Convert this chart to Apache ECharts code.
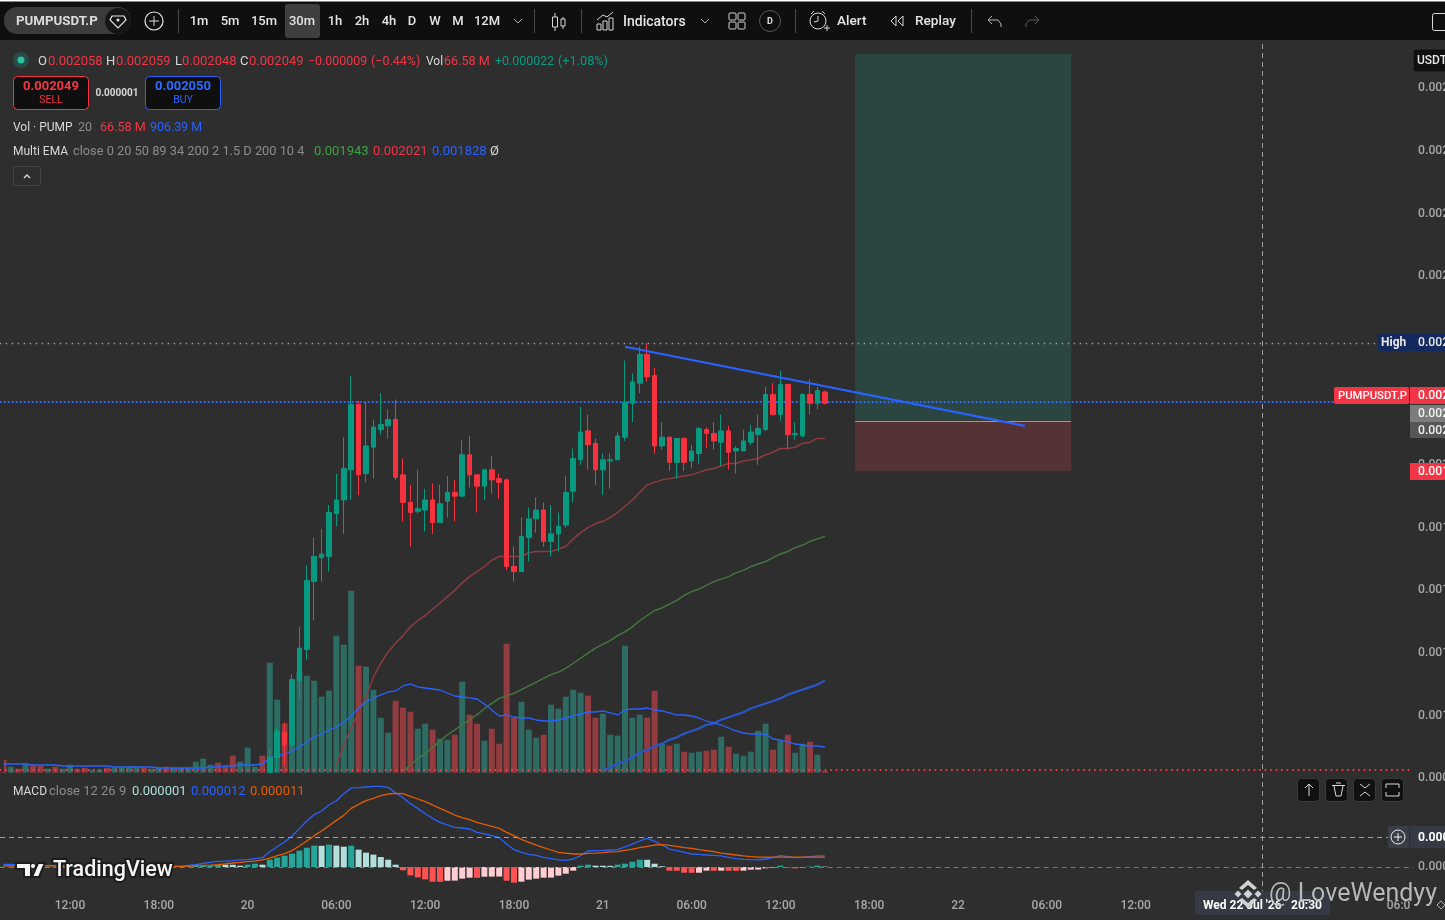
<!DOCTYPE html>
<html><head><meta charset="utf-8">
<style>html,body{margin:0;padding:0;background:#2e2e2e;overflow:hidden}#c{width:1445px;height:920px}</style>
<script src="https://cdn.jsdelivr.net/npm/echarts@6/dist/echarts.min.js"></script>
</head><body><div id="c"></div>
<script>
// Prices are in millionths of USDT. Candles start at bar 36; earlier bars sit below the visible scale.
const candleStart = 36;
const opens = [1755,1767,1787,1777,1828,1853,1907,1926,1927,1961,1972,1996,2048,1993,2014,2028,2031,2036,1992,1970,1963,1964,1972,1954,1971,1978,1975,2008,1992,1983,1996,1989,1988,1919,1915,1942,1957,1964,1939,1945,1952,1979,2004,2027,2017,1996,2003,2004,2022,2049,2065,2088,2071,2015,2022,2002,2021,2003,2009,2028,2025,2018,2027,2011,2011,2018,2024,2028,2056,2040,2064,2024,2023,2056,2049,2058];
const closes = [1767,1788,1777,1829,1854,1908,1927,1929,1962,1972,1997,2048,1992,2015,2030,2032,2036,1990,1970,1962,1965,1972,1954,1969,1978,1975,2008,1992,1983,1996,1988,1986,1919,1915,1943,1957,1964,1939,1945,1951,1978,2005,2026,2016,1996,2004,2004,2023,2050,2066,2088,2070,2015,2022,2002,2021,2002,2011,2029,2025,2019,2027,2010,2013,2019,2026,2029,2056,2040,2064,2024,2025,2056,2049,2059,2049];
const lows = [1755,1755,1761,1773,1814,1845,1876,1907,1915,1951,1945,1972,1976,1986,1989,2024,2021,1988,1955,1935,1961,1947,1945,1954,1958,1955,1975,1982,1962,1972,1977,1973,1916,1907,1915,1923,1946,1935,1927,1931,1950,1970,2000,1996,1984,1976,1981,2004,2019,2034,2057,2066,2009,2012,1995,1989,1995,1997,2001,2013,2012,1999,1996,1993,2011,2016,2000,2027,2039,2035,2013,2020,2022,2040,2044,2048];
const highs = [1774,1791,1795,1833,1871,1920,1942,1949,1968,1993,2022,2071,2051,2050,2036,2057,2044,2052,2005,1984,1996,1981,1985,1984,1991,1988,2020,2023,1992,1997,2007,1993,1989,1935,1958,1966,1974,1970,1968,1962,1991,2013,2046,2040,2021,2009,2009,2026,2083,2073,2094,2097,2077,2034,2022,2021,2022,2016,2030,2030,2034,2040,2031,2015,2028,2032,2040,2062,2065,2075,2064,2034,2057,2068,2062,2059];
// Multi EMA (millionths of USDT)
const emaRedStart = 45;
const emaRed = [1761,1777,1790,1803,1815,1831,1842,1851,1858,1864,1871,1876,1880,1885,1890,1895,1900,1906,1911,1915,1919,1924,1927,1927,1927,1927,1930,1931,1931,1931,1933,1935,1941,1946,1950,1953,1955,1958,1962,1967,1972,1978,1984,1986,1988,1989,1990,1991,1992,1994,1996,1997,1999,2001,2001,2003,2004,2005,2008,2010,2013,2013,2014,2017,2018,2021,2021];
const emaGreenStart = 54;
const emaGreen = [1756,1761,1766,1770,1775,1780,1785,1789,1793,1797,1801,1806,1810,1814,1816,1818,1821,1824,1827,1830,1833,1835,1838,1842,1846,1850,1854,1857,1860,1864,1867,1871,1876,1880,1884,1886,1889,1892,1896,1899,1901,1904,1907,1909,1911,1914,1916,1919,1921,1923,1926,1929,1931,1934,1936,1939,1941,1943];
const emaBlueStart = 81;
const emaBlue = [1757,1759,1762,1764,1767,1771,1773,1776,1778,1781,1783,1786,1788,1790,1793,1794,1797,1799,1801,1803,1806,1808,1810,1812,1814,1817,1819,1821,1823,1825,1828];
// Volume (millions)
const volume = [459,212,141,317,247,247,141,212,141,282,141,176,106,106,176,176,176,212,212,176,141,176,212,176,176,176,388,494,282,353,212,600,388,882,212,600,3880,2575,1728,2187,3562,3421,3245,2681,2892,4832,4515,6419,3774,3739,2927,1940,1411,2539,2293,2151,1552,1728,1517,1199,1164,1340,3210,2046,1728,1129,1552,1023,4550,1940,2504,1517,1234,1340,2398,2257,2681,2927,2822,2716,1940,2081,1340,1305,4479,1940,2046,1940,2892,1023,952,1023,741,705,741,776,811,1270,917,670,600,741,1481,1728,811,1129,1340,705,1023,1093,635,66.58];
const earlyVolumeUp = [0,1,0,1,0,0,1,0,1,1,0,0,1,1,0,1,1,1,1,0,1,1,0,1,1,1,1,1,1,0,0,0,1,1,1,0];
const volumeMA = [307,307,307,307,272,272,272,272,236,236,236,236,236,236,236,201,201,201,201,201,201,166,166,166,166,166,166,166,201,201,236,236,272,272,272,307,518,589,660,765,906,1083,1259,1365,1506,1612,1788,2000,2282,2494,2635,2741,2846,2882,3058,3128,3023,2987,2952,2917,2811,2705,2670,2635,2599,2423,2211,2000,2035,1964,1929,1929,1859,1823,1823,1859,1929,2000,2070,2141,2141,2176,2106,2035,2211,2247,2247,2282,2211,2176,2106,2035,2035,2000,1929,1823,1753,1682,1577,1471,1400,1365,1365,1365,1189,1153,1083,1012,977,942,942,906.39];
// MACD (millionths of USDT)
const macdHist = [0.3,0.2,-0.2,-0.3,0.2,0.2,-0.2,-0.2,0.1,0.1,0.1,-0.1,0.1,0.1,0.1,0.1,-0.1,0.1,0.1,0.1,0.1,0.1,0.1,0.2,0.4,0.7,1.1,1.5,1.6,2.7,2.6,2.5,1.5,2.6,3.7,2.6,8.2,10.5,12.7,15,18.4,21.7,24,23.8,25.1,24,22.8,24,19.5,16.1,13.9,11.2,8.2,2.6,-3.7,-9.4,-11.6,-13.9,-16.5,-16.6,-15.4,-15.3,-13.1,-12,-12.1,-10.9,-10.8,-10.7,-15.4,-17.6,-16.5,-14.2,-13.1,-12,-11.9,-9.7,-7.5,-4.1,1.5,2.6,1.5,1.4,1.3,2.6,3.7,6,8.2,8.1,3.7,0.8,-4.1,-4.2,-6.4,-6.5,-6.4,-4.1,-4.2,-4.1,-4.2,-4.3,-4.1,-3,-2.9,-1.5,-0.7,1.5,-0.7,-1.5,-0.7,0.4,1.5,0.4];
const macdLine = [3,2.8,2.5,2.2,2,1.8,1.6,1.5,1.4,1.2,1.1,1,0.9,0.8,0.7,0.7,0.6,0.6,0.5,0.5,0.5,0.5,0.5,0.6,0.7,1.9,2.6,4.1,5.2,6.4,6.7,7.1,7.9,8.2,9.4,10.5,17.2,22.8,28.1,34.8,43.1,51.7,58.8,62.9,69.7,74.5,82.4,88.8,89.1,89.9,90.6,90.6,89.5,83.1,77.9,71.2,65.9,59.9,54.7,50.2,47.2,44.6,43.8,42.7,38.9,37.1,35.2,33,25.8,19.5,16.5,14.2,13.1,10.9,9.4,7.9,7.5,9,12.7,18,18.4,18.7,19.1,19.5,22.5,25.8,29.2,32.2,28.8,24.7,20.2,18.4,16.5,14.6,14.2,13.5,13.1,12.4,10.9,9.4,8.6,8.2,7.9,9,10.5,12.7,11.6,10.5,10.9,11.6,12.4,12.4];
const signalLine = [1.3,1.3,1.3,1.3,1.3,1.2,1.2,1.2,1.1,1.1,1.1,1,1,1,0.9,0.9,0.9,0.8,0.8,0.8,0.7,0.7,0.7,0.7,0.7,1.1,1.5,1.9,2.2,2.6,3.4,4.5,5.2,6,6.7,7.9,10.1,12.7,15,18.4,23.6,29.2,35.2,40.4,46.4,52.4,58,65.9,70.4,74.5,77.1,80.1,82,82.8,82.4,79.4,76.4,73.4,69.7,65.9,62.2,58.4,55.4,53.2,50.2,47.9,45.7,43.4,38.9,35.2,31.1,27.7,24.7,21.7,19.1,16.5,15.7,14.6,14.6,15.4,15.7,16.1,16.9,17.2,18.7,20.2,21.7,23.2,24.7,25.1,24.3,23.2,21.7,21,19.5,18.4,17.2,15.7,14.6,13.5,12.4,11.6,11.2,11.2,11.2,11.2,11.2,11.2,11.2,11.2,11.2,11.2];
// Time axis
const barCount = 191;
const firstTickBar = 9, barsPerTick = 12;
const tickLabels = ['12:00','18:00','20','06:00','12:00','18:00','21','06:00','12:00','18:00','22','06:00','12:00','18:00','','06:00'];
// Drawings (millionths of USDT; x in bar units)
const highPrice = 2097, lastPrice = 2049, volumeBaseLine = 1757;
const trendStart = [84.5, 2094], trendEnd = [138.55, 2031];
const boxLeft = 115.6, boxRight = 144.8, boxTop = 2327, boxEntry = 2035, boxStop = 1995;
const hiddenPriceTicks = [1750, 2050, 2100];

const FONT = 'Roboto';
const UP = '#089981', DOWN = '#f7323f', VUP = '#2d6b63', VDOWN = '#923c3f', BG = '#2e2e2e';
const categories = Array.from({length: barCount}, (_, i) => 'bar ' + i);
const pad = (start, arr) => Array(start).fill('-').concat(arr);
const candleData = pad(candleStart, opens.map((o, i) => [o, closes[i], lows[i], highs[i]]));
const isUp = i => i < candleStart ? !!earlyVolumeUp[i] : closes[i - candleStart] > opens[i - candleStart];
const volData = volume.map((v, i) => ({value: v, itemStyle: {color: isUp(i) ? VUP : VDOWN}}));
const histData = macdHist.map((v, i) => {
  const p = i ? macdHist[i - 1] : 0;
  const c = v >= 0 ? (v >= p ? '#26a69a' : '#b2dfdb') : (v < p ? '#ff5252' : '#ffcdd2');
  return {value: v, itemStyle: {color: c}};
});

// Chrome helpers
const T = (x, y, text, fill = '#e0e0e0', size = 13, weight = 400, align = 'left', extra = {}) => ({type: 'text', z: 100, x, y,
  style: Object.assign({text, fill, font: `${weight} ${size}px ${FONT}`, textAlign: align, textVerticalAlign: 'middle', verticalAlign: 'middle'}, extra)});
const R = (x, y, w, h, fill, stroke, r = 0, z = 99) => ({type: 'rect', z, shape: {x, y, width: w, height: h, r}, style: {fill: fill || 'none', stroke: stroke || 'none', lineWidth: 1}});
const C = (cx, cy, r, fill, stroke, lw = 1, z = 100) => ({type: 'circle', z, shape: {cx, cy, r}, style: {fill: fill || 'none', stroke: stroke || 'none', lineWidth: lw}});
const L = (x1, y1, x2, y2, stroke = '#d8d8d8', lw = 1, dash, z = 100) => ({type: 'line', z, shape: {x1, y1, x2, y2}, style: {stroke, lineWidth: lw, lineDash: dash || null}});
const P = (points, stroke = '#d8d8d8', lw = 1, z = 100) => ({type: 'polyline', z, shape: {points}, style: {stroke, lineWidth: lw, fill: 'none'}});
const G = (points, fill, stroke, lw = 1, z = 100) => ({type: 'polygon', z, shape: {points}, style: {fill, stroke: stroke || 'none', lineWidth: lw}});

const g = [];
// Toolbar
g.push(R(0, 0, 1445, 40, '#0f0f0f', null, 0, 98), R(0, 0, 1445, 1.6, '#ffffff'));
g.push(R(4, 7, 127, 27, '#3c3c3c', null, 13), C(118, 21, 13, '#151515', null));
g.push(T(16, 21.5, 'PUMPUSDT.P', '#dcdcdc', 13.3, 700));
g.push(G([[112, 16], [124, 16], [126, 20], [118, 28], [110, 20]], 'none', '#e8e8e8', 1.2), C(118, 20, 1.5, '#e8e8e8'));
g.push(C(154, 21, 9, null, '#e8e8e8', 1.2), L(149, 21, 159, 21), L(154, 16, 154, 26));
g.push(L(178.5, 9, 178.5, 33, '#4a4a4a'));
g.push(R(285, 4, 35, 34, '#3f3f3f', null, 3));
[['1m', 199], ['5m', 230], ['15m', 264], ['30m', 302], ['1h', 335], ['2h', 362], ['4h', 389], ['D', 412], ['W', 435], ['M', 458], ['12M', 487]].forEach(([t, x]) => g.push(T(x, 21.5, t, '#e4e4e4', 13, 500, 'center')));
g.push(P([[514, 19], [518, 23], [522, 19]], '#b0b0b0'));
g.push(L(534.5, 9, 534.5, 33, '#4a4a4a'));
g.push(L(555, 13, 555, 31), R(552.5, 17, 5, 10, '#0f0f0f', '#d8d8d8', 0, 100), L(563, 17, 563, 29), R(561, 19, 4, 7, '#0f0f0f', '#d8d8d8', 0, 100));
g.push(L(581.5, 9, 581.5, 33, '#4a4a4a'));
g.push(P([[597, 20], [603, 15], [607, 17], [613, 12]]), R(597, 24, 4, 6, null, '#d8d8d8', 0, 100), R(603, 21, 4, 9, null, '#d8d8d8', 0, 100), R(609, 18, 4, 12, null, '#d8d8d8', 0, 100));
g.push(T(623, 22, 'Indicators', '#e4e4e4', 14, 500));
g.push(P([[701, 19], [705, 23], [709, 19]], '#b0b0b0'));
[[729, 13], [738, 13], [729, 22], [738, 22]].forEach(([x, y]) => g.push(R(x, y, 7, 7, null, '#d0d0d0', 1, 100)));
g.push(C(770, 21, 10.5, null, '#555'), T(770, 21.5, 'D', '#e0e0e0', 9, 700, 'center'));
g.push(L(795.5, 9, 795.5, 33, '#4a4a4a'));
g.push(C(818, 21, 8, null, '#d8d8d8'), L(818, 21, 818, 16), L(818, 21, 814, 22), L(811, 14, 814, 11), L(825, 14, 822, 11), L(824, 28, 830, 28), L(827, 25, 827, 31));
g.push(T(837, 22, 'Alert', '#e4e4e4', 13.6, 500));
g.push(P([[896, 16], [891, 21], [896, 26], [896, 16]]), P([[903, 16], [898, 21], [903, 26], [903, 16]]));
g.push(T(915, 22, 'Replay', '#e4e4e4', 13.6, 500));
g.push(L(971.5, 9, 971.5, 33, '#4a4a4a'));
g.push(P([[992, 16], [988, 20], [992, 24]], '#b8b8b8'), P([[988, 20], [998, 20], [1001, 24], [1001, 27]], '#b8b8b8'));
g.push(P([[1035, 16], [1039, 20], [1035, 24]], '#5a5a5a'), P([[1039, 20], [1029, 20], [1026, 24], [1026, 27]], '#5a5a5a'));
g.push(R(1432.5, 13.5, 20, 17, null, '#d8d8d8', 2, 100));
// Legend rows
g.push(C(21, 60, 8, '#2a4a46'), C(21, 60, 3.5, '#26c2a5'));
const RED = '#f23645', GRN = '#089981', LBL = '#d8d8d8';
[[38, 'O', LBL, 13], [48, '0.002058', RED, 13], [106, 'H', LBL, 13], [116, '0.002059', RED, 13], [175, 'L', LBL, 13], [182, '0.002048', RED, 13], [240, 'C', LBL, 13], [249, '0.002049', RED, 13], [308, '−0.000009', RED, 12.4], [371, '(−0.44%)', RED, 12.5], [426, 'Vol', LBL, 12], [444, '66.58 M', RED, 12.6], [495, '+0.000022', GRN, 12.4], [558, '(+1.08%)', GRN, 12.7]].forEach(([x, t, c, s]) => g.push(T(x, 61.5, t, c, s)));
g.push(R(13.5, 76.5, 75, 33, '#0f0f0f', RED, 4), T(51, 86.5, '0.002049', RED, 13, 700, 'center'), T(51, 100.5, 'SELL', RED, 10.5, 400, 'center'));
g.push(T(117, 93, '0.000001', '#d8d8d8', 10, 700, 'center'));
g.push(R(145.5, 76.5, 75, 33, '#0f0f0f', '#2962ff', 4), T(183, 86.5, '0.002050', '#2f6bff', 13, 700, 'center'), T(183, 100.5, 'BUY', '#2962ff', 10.5, 400, 'center'));
g.push(T(13, 127.5, 'Vol · PUMP', LBL, 12), T(78, 127.5, '20', '#8c8c8c', 12.5), T(100, 127.5, '66.58 M', RED, 12.6), T(150, 127.5, '906.39 M', '#2962ff', 12.4));
g.push(T(13, 151.5, 'Multi EMA', LBL, 12), T(73, 151.5, 'close 0 20 50 89 34 200 2 1.5 D 200 10 4', '#8c8c8c', 12.8), T(314, 151.5, '0.001943', '#43a047', 13), T(373, 151.5, '0.002021', RED, 13), T(432, 151.5, '0.001828', '#2962ff', 13), T(490, 151.5, 'Ø', LBL, 13));
g.push(R(13.5, 166.5, 27, 19, '#2e2e2e', '#454545', 2), P([[24, 178], [27, 175], [30, 178]], '#d8d8d8', 1.4));
// MACD legend
g.push(T(13, 791.5, 'MACD', LBL, 12), T(49, 791.5, 'close 12 26 9', '#8c8c8c', 13), T(132, 791.5, '0.000001', '#b2dfdb', 13), T(191, 791.5, '0.000012', '#2962ff', 13), T(250, 791.5, '0.000011', '#e65c00', 13));
// Crosshair
g.push(L(1262.5, 44, 1262.5, 891, '#a0a0a0', 1, [5, 4], 50), L(0, 837.5, 1390, 837.5, '#a0a0a0', 1, [5, 4], 50));
// Left edge of the pane: the first bar is cut here
g.push(R(0, 755, 4, 17, BG, null, 0, 2.5));
// Price tags
g.push(R(1413, 49, 40, 23, '#0f0f0f', '#333', 3), T(1417, 61, 'USDT', '#e8e8e8', 12, 500));
g.push(R(1378, 334, 32, 17, '#142a5e', null, 2), T(1381, 342.5, 'High', '#e8e8e8', 12, 700), R(1410, 334, 36, 17, '#142a5e'), T(1418, 343, '0.002097', '#e8e8e8', 12.2, 500));
g.push(R(1334, 387, 75, 17, RED, null, 2), T(1338, 396, 'PUMPUSDT.P', '#ffffff', 11.3, 500), R(1410, 387, 36, 17, RED), T(1418, 396, '0.002049', '#ffffff', 12.2, 500));
g.push(R(1410, 405, 36, 17, '#7c7c7c'), T(1418, 413.5, '0.002035', '#f0f0f0', 12.2, 500));
g.push(R(1410, 422, 36, 16, '#565656'), T(1418, 430.5, '0.002034', '#f0f0f0', 12.2, 500));
g.push(R(1410, 463, 36, 17, RED), T(1418, 472, '0.001995', '#ffffff', 12.2, 500));
// Pane buttons
[1297.5, 1325.5, 1353.5, 1381.5].forEach(x => g.push(R(x, 778.5, 22, 23, '#101010', '#3a3a3a', 4)));
g.push(L(1309, 784, 1309, 796), P([[1305, 788], [1309, 784], [1313, 788]]));
g.push(P([[1334, 786], [1336, 796], [1341, 796], [1343, 786]]), L(1332, 785.5, 1345, 785.5), L(1336, 783, 1341, 783));
g.push(P([[1360, 784], [1365, 788], [1370, 784]]), P([[1360, 796], [1365, 792], [1370, 796]]));
g.push(P([[1386, 788], [1386, 784], [1399, 784], [1399, 788]]), P([[1386, 792], [1386, 796], [1399, 796], [1399, 792]]));
// Crosshair labels
g.push(R(1388, 826, 21, 22, '#3a3e48', null, 2), C(1398, 837, 7, null, '#f0f0f0', 1), L(1394, 837, 1402, 837, '#f0f0f0'), L(1398, 833, 1398, 841, '#f0f0f0'));
g.push(R(1410, 826, 36, 22, '#363a45'), T(1418, 838, '0.000034', '#ffffff', 12.2, 700));
g.push(R(1410, 895, 35, 25, BG, null, 0, 97));
g.push(R(1195, 891, 135, 24, '#363a45', null, 2), T(1203, 905.5, "Wed 22 Jul '26", '#ffffff', 12, 700), T(1291, 905.5, '20:30', '#ffffff', 12, 700));
g.push(G([[1441, 901], [1445, 905], [1441, 909], [1437, 905]], 'none', '#b0b0b0'));
// TradingView logo
const outline = '#1c1c1c';
g.push(G([[16, 863], [31, 863], [31, 877], [24, 877], [24, 869], [16, 869]], '#f5f5f5', outline, 2, 110), C(33, 866, 2.6, '#f5f5f5', outline, 1, 110), G([[38, 863], [45, 863], [39, 877], [32, 877]], '#f5f5f5', outline, 2, 110));
g.push(Object.assign(T(53, 870.5, 'TradingView', '#f5f5f5', 21.5, 500, 'left', {stroke: outline, lineWidth: 4}), {z: 110}));
// Watermark
const wm = '#d2d2d2';
const dia = (cx, cy, s, z = 120) => G([[cx, cy - s], [cx + s, cy], [cx, cy + s], [cx - s, cy]], wm, null, 1, z);
g.push(dia(1248, 894, 4.5), dia(1238, 894, 3.5), dia(1258, 894, 3.5));
g.push(G([[1248, 880], [1257, 888], [1254, 890], [1248, 885], [1242, 890], [1239, 888]], wm, null, 1, 120));
g.push(G([[1248, 908], [1257, 900], [1254, 898], [1248, 903], [1242, 898], [1239, 900]], wm, null, 1, 120));
g.push(Object.assign(T(1269, 894.5, '@ LoveWendyy', 'rgba(215,215,215,0.82)', 25, 400, 'left', {stroke: 'rgba(20,20,20,0.35)', lineWidth: 1}), {z: 120}));

const hiddenX = (gridIndex) => ({type: 'category', gridIndex, data: categories, show: false, boundaryGap: true});
const mkLine = (yAxis, color, dash, width = 1) => ({yAxis, lineStyle: {color, type: dash, width}});

const option = {
  animation: false,
  backgroundColor: BG,
  textStyle: {fontFamily: FONT},
  grid: [
    {left: -0.3, width: 1413.4, top: 25.2, height: 753.6, outerBoundsMode: 'none', containLabel: false},
    {left: -0.3, width: 1413.4, top: 375.7, height: 397, outerBoundsMode: 'none', containLabel: false},
    {left: -0.3, width: 1413.4, top: 778, height: 106.8, outerBoundsMode: 'none', containLabel: false}
  ],
  xAxis: [
    hiddenX(0), hiddenX(1),
    {type: 'category', gridIndex: 2, data: categories, boundaryGap: true, axisLine: {show: false}, axisTick: {show: false},
      axisLabel: {color: '#a8a8a8', fontSize: 12, fontWeight: 500, fontFamily: FONT, margin: 15, hideOverlap: false,
        interval: i => i >= firstTickBar && (i - firstTickBar) % barsPerTick === 0,
        formatter: (v, i) => tickLabels[(i - firstTickBar) / barsPerTick] || ''}},
    {type: 'value', gridIndex: 0, min: 0, max: barCount, show: false}
  ],
  yAxis: [
    {type: 'value', gridIndex: 0, position: 'right', min: 1750, max: 2350, interval: 50, splitLine: {show: false}, axisLine: {show: false}, axisTick: {show: false},
      axisLabel: {color: '#a6a6a6', fontSize: 12.2, fontWeight: 500, fontFamily: FONT, margin: 5, formatter: v => hiddenPriceTicks.includes(v) ? '' : (v / 1e6).toFixed(6)}},
    {type: 'value', gridIndex: 1, min: 0, max: 14000, show: false, splitLine: {show: false}},
    {type: 'value', gridIndex: 2, position: 'right', min: -20, max: 100, interval: 20, splitLine: {show: false}, axisLine: {show: false}, axisTick: {show: false},
      axisLabel: {color: '#a6a6a6', fontSize: 12.2, fontWeight: 500, fontFamily: FONT, margin: 5, formatter: v => (v === 0 || v === 100) ? (v / 1e6).toFixed(6) : ''}}
  ],
  series: [
    {name: 'Position', type: 'line', xAxisIndex: 3, yAxisIndex: 0, data: [], z: 1, silent: true,
      markArea: {silent: true, data: [
        [{xAxis: boxLeft, yAxis: boxTop, itemStyle: {color: '#2b4641'}}, {xAxis: boxRight, yAxis: boxEntry}],
        [{xAxis: boxLeft, yAxis: boxEntry, itemStyle: {color: '#553234'}}, {xAxis: boxRight, yAxis: boxStop}]
      ]},
      markLine: {silent: true, symbol: 'none', label: {show: false}, data: [
        [{xAxis: boxLeft, yAxis: boxEntry, lineStyle: {color: '#9a9a9a', width: 1, type: 'solid'}}, {xAxis: boxRight, yAxis: boxEntry}]
      ]}},
    {name: 'Volume', type: 'bar', xAxisIndex: 1, yAxisIndex: 1, data: volData, barWidth: 6, z: 2, silent: true},
    {name: 'Volume MA', type: 'line', xAxisIndex: 1, yAxisIndex: 1, data: volumeMA, symbol: 'none', z: 4, lineStyle: {color: '#2962ff', width: 1.3}},
    {name: 'EMA red', type: 'line', xAxisIndex: 0, yAxisIndex: 0, data: pad(emaRedStart, emaRed), symbol: 'none', z: 3, lineStyle: {color: '#8c3c41', width: 1.5}},
    {name: 'EMA green', type: 'line', xAxisIndex: 0, yAxisIndex: 0, data: pad(emaGreenStart, emaGreen), symbol: 'none', z: 3, lineStyle: {color: '#45783f', width: 1.4}},
    {name: 'EMA blue', type: 'line', xAxisIndex: 0, yAxisIndex: 0, data: pad(emaBlueStart, emaBlue), symbol: 'none', z: 3, lineStyle: {color: '#2a55c8', width: 2.2}},
    {name: 'PUMPUSDT.P', type: 'candlestick', xAxisIndex: 0, yAxisIndex: 0, data: candleData, barWidth: 5, z: 5, silent: true,
      itemStyle: {color: UP, color0: DOWN, borderColor: UP, borderColor0: DOWN, borderWidth: 1},
      markLine: {silent: true, symbol: 'none', label: {show: false}, animation: false, data: [
        mkLine(highPrice, '#9a9a9a', [1.5, 4.5], 1.4),
        mkLine(lastPrice + 1, '#2f66ff', [2, 2], 1.8),
        mkLine(volumeBaseLine, '#ff3b45', [1.5, 4], 1.8)
      ]}},
    {name: 'Trend', type: 'line', xAxisIndex: 3, yAxisIndex: 0, data: [trendStart, trendEnd], symbol: 'none', z: 6, lineStyle: {color: '#2962ff', width: 2.2}},
    {name: 'Histogram', type: 'bar', xAxisIndex: 2, yAxisIndex: 2, data: histData, barWidth: 6, z: 2, silent: true,
      markLine: {silent: true, symbol: 'none', label: {show: false}, data: [mkLine(0, '#7a7a7a', [5, 4])]}},
    {name: 'MACD', type: 'line', xAxisIndex: 2, yAxisIndex: 2, data: macdLine, symbol: 'none', z: 3, lineStyle: {color: '#2962ff', width: 1.3}},
    {name: 'Signal', type: 'line', xAxisIndex: 2, yAxisIndex: 2, data: signalLine, symbol: 'none', z: 3, lineStyle: {color: '#e65c00', width: 1.3}}
  ],
  graphic: {elements: g}
};
const chart = echarts.init(document.getElementById('c'), null, {renderer: 'canvas', width: 1445, height: 920});
chart.setOption(option);
</script></body></html>
